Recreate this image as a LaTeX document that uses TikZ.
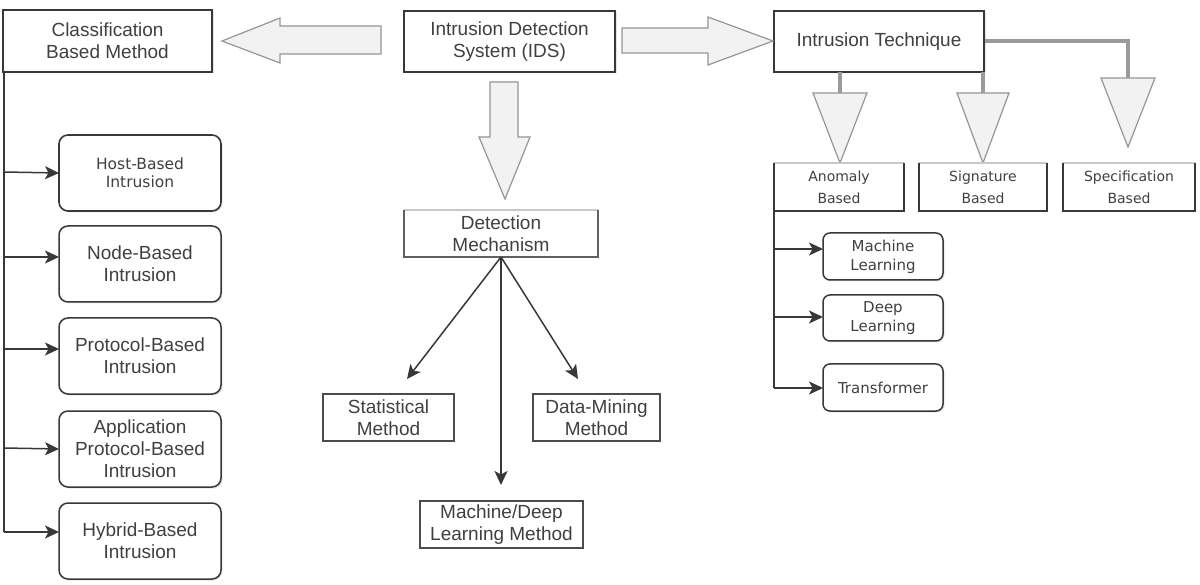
\documentclass[tikz,border=0pt]{standalone}
\usepackage{fontspec}
\setmainfont{Liberation Sans}
\newfontfamily\smallf{DejaVu Sans}
\usetikzlibrary{shadows,arrows.meta}
\definecolor{bord}{HTML}{383838}
\definecolor{txt}{HTML}{404040}
\definecolor{blk}{HTML}{F2F2F2}
\definecolor{blkb}{HTML}{969696}
\definecolor{pipec}{HTML}{9A9A9A}
\definecolor{lite}{HTML}{C8C8C8}
\begin{document}
\begin{tikzpicture}[x=1pt,y=-1pt,
  box/.style={draw=bord, line width=1.6pt, fill=white, inner sep=0pt, outer sep=0pt,
    align=center, text=txt, font=\fontsize{19}{22}\selectfont,
    drop shadow={opacity=0.2,shadow xshift=1.5pt,shadow yshift=-1.5pt}},
  rbox/.style={box, rounded corners=9pt, font=\smallf\fontsize{15.5}{18}\selectfont},
  rboxr/.style={box, rounded corners=9pt, line width=1.5pt},
  mbox/.style={box, rounded corners=7pt, line width=1.5pt, font=\smallf\fontsize{15}{19}\selectfont},
  flat/.style={draw=none, fill=white, inner sep=0pt, outer sep=0pt, align=center, text=txt},
  plain/.style={draw=bord!90, line width=1.4pt, fill=white, inner sep=0pt, outer sep=0pt,
    align=center, text=txt, font=\fontsize{19}{22}\selectfont},
  arr/.style={draw=bord, line width=1.5pt, -{Stealth[length=14pt,width=13pt,inset=3.5pt]}},
  blockarrow/.style={fill=blk, draw=blkb, line width=1.2pt, line join=miter},
  pipe/.style={draw=pipec, line width=4.5pt},
  darkedge/.style={draw=bord, line width=1.5pt},
  liteedge/.style={draw=lite, line width=1.2pt}
]
\useasboundingbox (0,0) rectangle (1200,585);
\fill[white] (0,0) rectangle (1200,585);

% ---------- top row ----------
\node[box, minimum width=209pt, minimum height=62pt] (cls) at (107.5,41) {Classification\\Based Method};
\node[box, minimum width=211pt, minimum height=61pt] (ids) at (509.5,41.5) {Intrusion Detection\\System (IDS)};
\node[box, minimum width=210pt, minimum height=61pt] (tech) at (879,41.5) {Intrusion Technique};

% block arrows
\draw[blockarrow] (381,26) -- (280,26) -- (280,18) -- (222,41) -- (280,63) -- (280,54) -- (381,54) -- cycle;
\draw[blockarrow] (622,28) -- (708,28) -- (708,17) -- (773,41) -- (708,65) -- (708,53) -- (622,53) -- cycle;
\draw[blockarrow] (490,82) -- (518,82) -- (518,137) -- (530,137) -- (505,199) -- (479,137) -- (490,137) -- cycle;

% ---------- left column ----------
\node[rbox, minimum width=162pt, minimum height=76pt] (host) at (140,173) {Host-Based\\Intrusion};
\node[rboxr, minimum width=162pt, minimum height=76pt] (nodeb) at (140,264) {Node-Based\\Intrusion};
\node[rboxr, minimum width=162pt, minimum height=76pt] (proto) at (140,356) {Protocol-Based\\Intrusion};
\node[rboxr, minimum width=162pt, minimum height=76pt] (appl) at (140,449) {Application\\Protocol-Based\\Intrusion};
\node[rboxr, minimum width=162pt, minimum height=76pt] (hyb) at (140,541) {Hybrid-Based\\Intrusion};

\coordinate (lbot) at (3.8,532);
\draw[darkedge] ([xshift=0.8pt]cls.south west) -- (lbot);
\draw[arr] (3.8,172) -- (host.west);
\draw[arr] (3.8,257) -- ([yshift=7pt]nodeb.west);
\draw[arr] (3.8,349) -- ([yshift=7pt]proto.west);
\draw[arr] (3.8,448) -- (appl.west);
\draw[arr] (lbot) -- ([yshift=9pt]hyb.west);

% ---------- middle column ----------
\node[flat, minimum width=194pt, minimum height=47pt, font=\fontsize{19}{22}\selectfont] (det) at (501,233.5) {Detection\\Mechanism};
\draw[liteedge] (det.north west) -- (det.north east);
\draw[darkedge, draw=bord!80] (det.north west) -- (det.south west) -- (det.south east) -- (det.north east);

\node[plain, minimum width=131pt, minimum height=47pt] (stat) at (388.5,417.5) {Statistical\\Method};
\node[plain, minimum width=127pt, minimum height=47pt] (dm) at (596.5,417.5) {Data-Mining\\Method};
\node[plain, minimum width=163pt, minimum height=47pt] (mdl) at (501.5,524.5) {Machine/Deep\\Learning Method};

\coordinate (tstat) at (407,379);
\coordinate (tdm) at (578,379);
\coordinate (tmdl) at (501,485);
\draw[arr] (det.south) -- (tstat);
\draw[arr] (det.south) -- (tdm);
\draw[arr] (det.south) -- (tmdl);

% ---------- right column ----------
\coordinate (p1a) at (840,72);
\coordinate (p1b) at (840,94);
\coordinate (p2a) at (983,72);
\coordinate (p2b) at (983,94);
\coordinate (p3a) at (985,41);
\coordinate (p3c) at (1128,41);
\coordinate (p3b) at (1128,79);
\draw[pipe] (p1a) -- (p1b);
\draw[pipe] (p2a) -- (p2b);
\draw[pipe, line join=miter] (p3a) -- (p3c) -- (p3b);
\draw[blockarrow] (813,93) -- (867,93) -- (840,163) -- cycle;
\draw[blockarrow] (957,93) -- (1009,93) -- (983,163) -- cycle;
\draw[blockarrow] (1101,78) -- (1155,78) -- (1128,147) -- cycle;

\node[flat, minimum width=130pt, minimum height=48pt, font=\smallf\fontsize{14}{22}\selectfont] (anom) at (839,187) {Anomaly\\Based};
\node[flat, minimum width=128pt, minimum height=48pt, font=\smallf\fontsize{14}{22}\selectfont] (sig) at (983,187) {Signature\\Based};
\node[flat, minimum width=132pt, minimum height=48pt, font=\smallf\fontsize{14}{22}\selectfont] (spec) at (1129,187) {Specification\\Based};
\foreach \n in {anom,sig,spec}{
  \draw[liteedge] (\n.north west) -- (\n.north east);
  \draw[darkedge] (\n.north west) -- (\n.south west) -- (\n.south east) -- (\n.north east);
}

\node[mbox, minimum width=120pt, minimum height=47pt] (ml) at (883,256.5) {Machine\\Learning};
\node[mbox, minimum width=120pt, minimum height=46pt] (dl) at (883,318) {Deep\\Learning};
\node[mbox, minimum width=120pt, minimum height=47pt] (tr) at (883,387.5) {Transformer};

\coordinate (rbot) at (774,388);
\draw[darkedge] (anom.south west) -- (rbot);
\draw[arr] (774,249) -- ([yshift=7.5pt]ml.west);
\draw[arr] (774,317) -- ([yshift=1pt]dl.west);
\draw[arr] (rbot) -- ([yshift=-0.5pt]tr.west);
\end{tikzpicture}
\end{document}
